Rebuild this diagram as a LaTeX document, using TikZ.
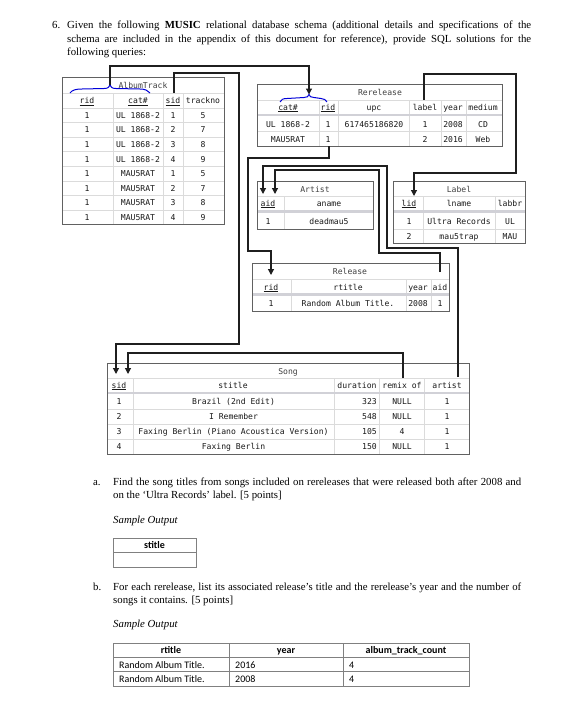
\documentclass[tikz,border=0pt]{standalone}
\usepackage{fontspec}
\setmainfont{Liberation Serif}
\newfontfamily\dbmono{DejaVu Sans Mono}
\newfontfamily\calib{Carlito}
\usetikzlibrary{arrows.meta}
\begin{document}
\begin{tikzpicture}[x=1pt,y=-1pt,
 tframe/.style={draw=black!62,line width=0.9pt},
 tgrid/.style={draw=black!14,line width=0.7pt},
 hbar/.style={draw=blue!12!black!18,line width=2.6pt},
 cell/.style={font=\dbmono\fontsize{8.1}{9}\selectfont,text=black!90,inner sep=0pt,text height=6pt,text depth=0pt,anchor=center},
 ttl/.style={cell,text=black!75},
 body/.style={font=\fontsize{10.8}{12}\selectfont,inner sep=0pt,text height=7pt,text depth=0pt,anchor=west},
 calc/.style={font=\calib\fontsize{10}{12}\selectfont,inner sep=0pt,text height=7pt,text depth=0pt},
 otab/.style={draw=black!50,line width=1pt},
 link/.style={draw=black!88,line width=1.2pt},
 arr/.style={link,-{Triangle[length=6pt,width=6pt]}},
 brace/.style={draw=blue!85!black,line width=1pt},
]
\useasboundingbox (0,0) rectangle (581,707);
\fill[white] (0,0) rectangle (581,707);

% ---------- question text ----------
\node[body] (qnum) at (52,25) {6.};
\node[body] (q1) at (67,25) {\makebox[464pt][s]{Given the following \textbf{MUSIC} relational database schema (additional details and specifications of the}};
\node[body] (q2) at (67,38.5) {\makebox[464pt][s]{schema are included in the appendix of this document for reference), provide SQL solutions for the}};
\node[body] (q3) at (67,52) {following queries:};

% ---------- AlbumTrack ----------
\foreach \yy in {93,108,122.6,137.1,151.7,166.3,180.9,195.4,210}
  \draw[tgrid] (62,\yy) -- (224,\yy);
\foreach \xx in {113,163,183}
  \draw[tgrid] (\xx,93) -- (\xx,224.6);
\draw[tframe] (62,77) rectangle (224,224.6);
\node[ttl] (atT) at (143,85) {AlbumTrack};
\node[cell] (atH1) at (87,100.5) {\underline{rid}};
\node[cell] (atH2) at (138,100.5) {\underline{cat\#}};
\node[cell] (atH3) at (173,100.5) {\underline{sid}};
\node[cell] (atH4) at (203,100.5) {trackno};
\foreach \a/\b/\c/\d [count=\i from 0] in {1/UL 1868-2/1/5,1/UL 1868-2/2/7,1/UL 1868-2/3/8,1/UL 1868-2/4/9,1/MAU5RAT/1/5,1/MAU5RAT/2/7,1/MAU5RAT/3/8,1/MAU5RAT/4/9}{
  \node[cell] (atR\i a) at (87,115.3+14.57*\i) {\a};
  \node[cell] (atR\i b) at (138,115.3+14.57*\i) {\b};
  \node[cell] (atR\i c) at (173,115.3+14.57*\i) {\c};
  \node[cell] (atR\i d) at (203,115.3+14.57*\i) {\d};
}
\draw[brace] (70,93) .. controls (72,90) and (76,89) .. (82,89) -- (104,88.5) .. controls (108,88.5) and (109.5,87) .. (110,85)
  .. controls (110.5,87) and (112,88.5) .. (116,88.5) -- (140,89) .. controls (145,89) and (148,90.5) .. (150,93);

% ---------- Rerelease ----------
\foreach \yy in {100,131.5}
  \draw[tgrid] (257,\yy) -- (502,\yy);
\foreach \xx in {319,338,409,441,466}
  \draw[tgrid] (\xx,100) -- (\xx,146);
\draw[hbar] (257.5,115) -- (501.5,115);
\draw[tframe] (257,84) rectangle (502,146);
\node[ttl] (rrT) at (380,92) {Rerelease};
\node[cell] (rrH1) at (288,107) {\underline{cat\#}};
\node[cell] (rrH2) at (328,107) {\underline{rid}};
\node[cell] (rrH3) at (374,107) {upc};
\node[cell] (rrH4) at (425,107) {label};
\node[cell] (rrH5) at (453,107) {year};
\node[cell] (rrH6) at (483,107) {medium};
\node[cell] (rrA1) at (288,124) {UL 1868-2};
\node[cell] (rrA2) at (328,124) {1};
\node[cell] (rrA3) at (374,124) {617465186820};
\node[cell] (rrA4) at (425,124) {1};
\node[cell] (rrA5) at (453,124) {2008};
\node[cell] (rrA6) at (483,124) {CD};
\node[cell] (rrB1) at (288,139) {MAU5RAT};
\node[cell] (rrB2) at (328,139) {1};
\node[cell] (rrB4) at (425,139) {2};
\node[cell] (rrB5) at (453,139) {2016};
\node[cell] (rrB6) at (483,139) {Web};
\draw[brace] (280,102) .. controls (281,99.5) and (283,98.5) .. (287,98.5) -- (304,97.5) .. controls (307,97.5) and (308.5,96.5) .. (309,94.5)
  .. controls (309.5,96.5) and (311,97.5) .. (314,97.5) -- (321,98.5) .. controls (324,98.5) and (326,100) .. (327,102);

% ---------- Artist ----------
\draw[tgrid] (257,196) -- (373,196);
\draw[tgrid] (284,196) -- (284,229);
\draw[hbar] (257.5,211.5) -- (372.5,211.5);
\draw[tframe] (257,181) rectangle (373,229);
\node[ttl] (arT) at (315,189) {Artist};
\node[cell] (arH1) at (268,203) {\underline{aid}};
\node[cell] (arH2) at (329,203) {aname};
\node[cell] (arA1) at (268,221) {1};
\node[cell] (arA2) at (329,221) {deadmau5};

% ---------- Label ----------
\foreach \yy in {196,229}
  \draw[tgrid] (393,\yy) -- (525,\yy);
\foreach \xx in {423,495}
  \draw[tgrid] (\xx,196) -- (\xx,243);
\draw[hbar] (393.5,211.5) -- (524.5,211.5);
\draw[tframe] (393,181) rectangle (525,243);
\node[ttl] (lbT) at (459,189) {Label};
\node[cell] (lbH1) at (409,203) {\underline{lid}};
\node[cell] (lbH2) at (459,203) {lname};
\node[cell] (lbH3) at (510,203) {labbr};
\node[cell] (lbA1) at (409,221) {1};
\node[cell] (lbA2) at (459,221) {Ultra Records};
\node[cell] (lbA3) at (510,221) {UL};
\node[cell] (lbB1) at (409,236) {2};
\node[cell] (lbB2) at (459,236) {mau5trap};
\node[cell] (lbB3) at (510,236) {MAU};

% ---------- Release ----------
\draw[tgrid] (252,279) -- (449,279);
\foreach \xx in {291,406,431}
  \draw[tgrid] (\xx,279) -- (\xx,311);
\draw[hbar] (252.5,294.5) -- (448.5,294.5);
\draw[tframe] (252,263) rectangle (449,311);
\node[ttl] (rlT) at (350,271) {Release};
\node[cell] (rlH1) at (271,287) {\underline{rid}};
\node[cell] (rlH2) at (348,287) {rtitle};
\node[cell] (rlH3) at (418,287) {year};
\node[cell] (rlH4) at (440,287) {aid};
\node[cell] (rlA1) at (271,303.5) {1};
\node[cell] (rlA2) at (348,303.5) {Random Album Title.};
\node[cell] (rlA3) at (418,303.5) {2008};
\node[cell] (rlA4) at (440,303.5) {1};

% ---------- Song ----------
\foreach \yy in {378,409,424.5,439}
  \draw[tgrid] (107,\yy) -- (469,\yy);
\foreach \xx in {133,334,379,424}
  \draw[tgrid] (\xx,378) -- (\xx,454);
\draw[hbar] (107.5,393) -- (468.5,393);
\draw[tframe] (107,363) rectangle (469,454);
\node[ttl] (sgT) at (288,371) {Song};
\node[cell] (sgH1) at (119,385) {\underline{sid}};
\node[cell] (sgH2) at (233,385) {stitle};
\node[cell] (sgH3) at (357,385) {duration};
\node[cell] (sgH4) at (402,385) {remix of};
\node[cell] (sgH5) at (447,385) {artist};
\foreach \a/\b/\c/\d [count=\i from 0] in {1/Brazil (2nd Edit)/323/NULL,2/I Remember/548/NULL,3/Faxing Berlin (Piano Acoustica Version)/105/4,4/Faxing Berlin/150/NULL}{
  \node[cell] (sgR\i a) at (119,401+15.2*\i) {\a};
  \node[cell] (sgR\i b) at (233.5,401+15.2*\i) {\b};
  \node[cell,anchor=east] (sgR\i c) at (377,401+15.2*\i) {\c};
  \node[cell] (sgR\i d) at (402,401+15.2*\i) {\d};
  \node[cell] (sgR\i e) at (447,401+15.2*\i) {1};
}

% ---------- connector end points ----------
\coordinate (atBr) at (110,85);
\coordinate (rrBr) at (309,94.5);
\coordinate (atSid) at (174,93);
\coordinate (sgSidA) at (116,374);
\coordinate (sgSidB) at (128,374);
\coordinate (sgRemix) at (403,378);
\coordinate (sgArt) at (458,377);
\coordinate (arAidA) at (263,194);
\coordinate (arAidB) at (275,194);
\coordinate (rlAid) at (440,272);
\coordinate (rrRid) at (329,146);
\coordinate (rlRid) at (271,275);
\coordinate (rrLab) at (424,100);
\coordinate (lbLid) at (414,196);

% ---------- connectors ----------
\draw[arr] (atBr) -- (110,66) -| (rrBr);
\draw[arr] (atSid) |- (239,73) -- (239,344) -| (sgSidA);
\draw[arr] (sgRemix) -- (403,353) -| (sgSidB);
\draw[arr] (sgArt) -- (458,248) -| (387,166) -| (arAidA);
\draw[arr] (rlAid) -- (440,253) -| (379,170) -| (arAidB);
\draw[arr] (rrRid) -- (329,158) -| (248,251) -| (rlRid);
\draw[arr] (rrLab) -- (424,74) -| (516,173) -| (lbLid);

% ---------- part a ----------
\node[body] (an) at (93,482) {a.};
\node[body] (a1) at (113,482) {\makebox[408pt][s]{Find the song titles from songs included on rereleases that were released both after 2008 and}};
\node[body] (a2) at (113,494.5) {on the ‘Ultra Records’ label. [5 points]};
\node[body] (aso) at (113,520) {\textit{Sample Output}};
\draw[otab] (113,538) rectangle (196,567);
\draw[otab] (113,552) -- (196,552);
\node[calc] (oaH) at (154.5,545) {\textbf{stitle}};

% ---------- part b ----------
\node[body] (bn) at (93,587) {b.};
\node[body] (b1) at (113,587) {\makebox[408pt][s]{For each rerelease, list its associated release’s title and the rerelease’s year and the number of}};
\node[body] (b2) at (113,599.5) {songs it contains. [5 points]};
\node[body] (bso) at (113,624) {\textit{Sample Output}};
\draw[otab] (113,643) rectangle (469,686);
\draw[otab] (113,657) -- (469,657);
\draw[otab] (113,671.5) -- (469,671.5);
\draw[otab] (229,643) -- (229,686);
\draw[otab] (343,643) -- (343,686);
\node[calc] (obH1) at (171,650) {\textbf{rtitle}};
\node[calc] (obH2) at (286,650) {\textbf{year}};
\node[calc] (obH3) at (406,650) {\textbf{album\_track\_count}};
\node[calc,anchor=west] (obA1) at (119,664.5) {Random Album Title.};
\node[calc,anchor=west] (obA2) at (235,664.5) {2016};
\node[calc,anchor=west] (obA3) at (349,664.5) {4};
\node[calc,anchor=west] (obB1) at (119,679) {Random Album Title.};
\node[calc,anchor=west] (obB2) at (235,679) {2008};
\node[calc,anchor=west] (obB3) at (349,679) {4};
\end{tikzpicture}
\end{document}
